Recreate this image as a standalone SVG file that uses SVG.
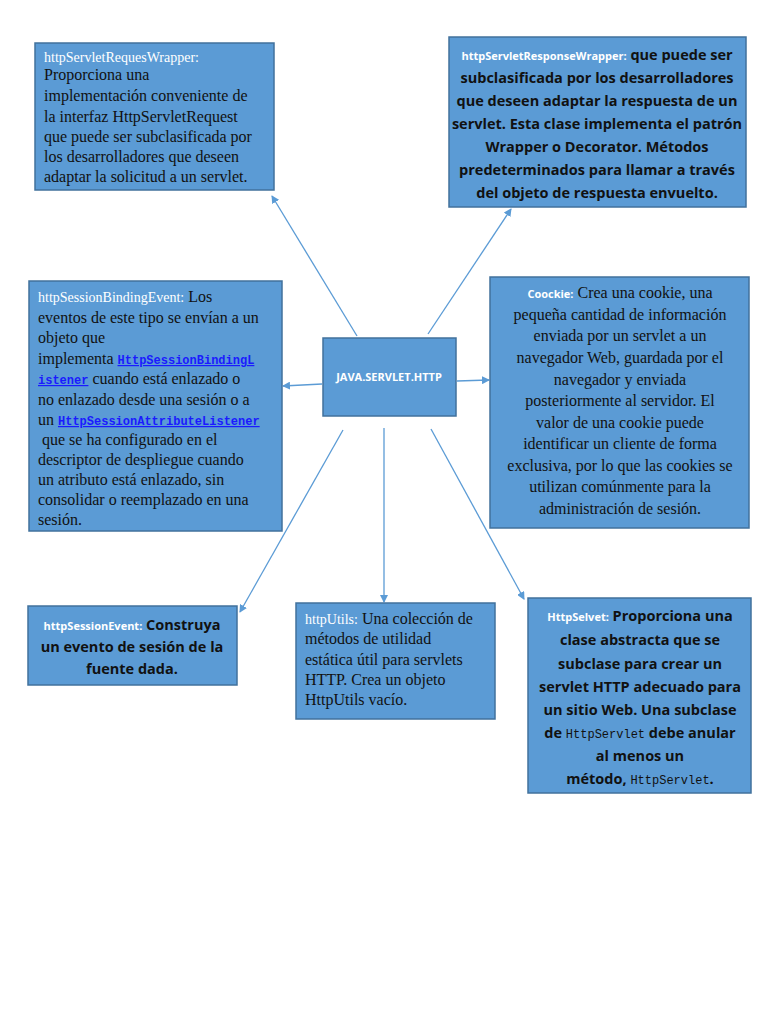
<svg xmlns="http://www.w3.org/2000/svg" width="768" height="1024" viewBox="0 0 768 1024">
<style>
.box{fill:#5b9bd5;stroke:#41719c;stroke-width:1.5}
.s{font-family:"Liberation Serif",serif;font-size:16px;fill:#111}
.sl{font-family:"Liberation Serif",serif;font-size:14px;fill:#fff}
.b{font-family:"Open Sans","Liberation Sans",sans-serif;font-weight:bold;font-size:14.5px;fill:#111}
.bl{font-family:"Open Sans","Liberation Sans",sans-serif;font-weight:bold;font-size:11px;fill:#fff}
.m{font-family:"Liberation Mono",monospace;font-size:12px}
.lk{fill:#1a1aff;text-decoration:underline;font-weight:bold}
.c{text-anchor:middle}
.con line{stroke:#5b9bd5;stroke-width:1.3;marker-end:url(#a)}
</style>
<defs><marker id="a" markerWidth="8" markerHeight="8" refX="7" refY="4" orient="auto" markerUnits="userSpaceOnUse"><path d="M0,0L8,4L0,8z" fill="#5b9bd5"/></marker></defs>
<rect width="768" height="1024" fill="#fff"/>
<g class="con">
<line x1="357" y1="336" x2="272" y2="196"/>
<line x1="428" y1="334" x2="511" y2="209"/>
<line x1="322" y1="384" x2="283" y2="386"/>
<line x1="457" y1="381" x2="489" y2="380"/>
<line x1="343" y1="430" x2="240" y2="612"/>
<line x1="384" y1="428" x2="384" y2="602"/>
<line x1="431" y1="429" x2="524" y2="599"/>
</g>
<g id="reqwrapper"><rect class="box" x="35" y="43" width="239" height="147"/>
<text class="sl" x="44" y="62">httpServletRequesWrapper:</text>
<text class="s" x="44" y="80">Proporciona una</text>
<text class="s" x="44" y="101">implementación conveniente de</text>
<text class="s" x="44" y="122">la interfaz HttpServletRequest</text>
<text class="s" x="44" y="142">que puede ser subclasificada por</text>
<text class="s" x="44" y="162">los desarrolladores que deseen</text>
<text class="s" x="44" y="182">adaptar la solicitud a un servlet.</text></g>
<g id="respwrapper"><rect class="box" x="449" y="37" width="297" height="170"/>
<text class="b c" x="597" y="60"><tspan class="bl">httpServletResponseWrapper:</tspan> que puede ser</text>
<text class="b c" x="597" y="83">subclasificada por los desarrolladores</text>
<text class="b c" x="597" y="106">que deseen adaptar la respuesta de un</text>
<text class="b c" x="597" y="129">servlet. Esta clase implementa el patrón</text>
<text class="b c" x="597" y="152">Wrapper o Decorator. Métodos</text>
<text class="b c" x="597" y="175">predeterminados para llamar a través</text>
<text class="b c" x="597" y="198">del objeto de respuesta envuelto.</text></g>
<g id="bindingevent"><rect class="box" x="29" y="281" width="253" height="250"/>
<text class="s" x="38" y="302"><tspan class="sl">httpSessionBindingEvent:</tspan> Los</text>
<text class="s" x="38" y="323">eventos de este tipo se envían a un</text>
<text class="s" x="38" y="343">objeto que</text>
<text class="s" x="38" y="364">implementa <tspan class="m lk">HttpSessionBindingL</tspan></text>
<text class="s" x="38" y="384"><tspan class="m lk">istener</tspan> cuando está enlazado o</text>
<text class="s" x="38" y="405">no enlazado desde una sesión o a</text>
<text class="s" x="38" y="425">un <tspan class="m lk">HttpSessionAttributeListener</tspan></text>
<text class="s" x="38" y="445" xml:space="preserve"> que se ha configurado en el</text>
<text class="s" x="38" y="465">descriptor de despliegue cuando</text>
<text class="s" x="38" y="485">un atributo está enlazado, sin</text>
<text class="s" x="38" y="505">consolidar o reemplazado en una</text>
<text class="s" x="38" y="525">sesión.</text></g>
<g id="center"><rect class="box" x="323" y="338" width="133" height="78"/>
<text class="bl c" x="389" y="381">JAVA.SERVLET.HTTP</text></g>
<g id="cookie"><rect class="box" x="490" y="277" width="259" height="251"/>
<text class="s c" x="620" y="298"><tspan class="bl">Coockie:</tspan> Crea una cookie, una</text>
<text class="s c" x="620" y="320">pequeña cantidad de información</text>
<text class="s c" x="620" y="341">enviada por un servlet a un</text>
<text class="s c" x="620" y="363">navegador Web, guardada por el</text>
<text class="s c" x="620" y="385">navegador y enviada</text>
<text class="s c" x="620" y="406">posteriormente al servidor. El</text>
<text class="s c" x="620" y="428">valor de una cookie puede</text>
<text class="s c" x="620" y="449">identificar un cliente de forma</text>
<text class="s c" x="620" y="471">exclusiva, por lo que las cookies se</text>
<text class="s c" x="620" y="492">utilizan comúnmente para la</text>
<text class="s c" x="620" y="514">administración de sesión.</text></g>
<g id="sessionevent"><rect class="box" x="28" y="606" width="209" height="79"/>
<text class="b c" x="132" y="630"><tspan class="bl">httpSessionEvent:</tspan> Construya</text>
<text class="b c" x="132" y="652">un evento de sesión de la</text>
<text class="b c" x="132" y="674">fuente dada.</text></g>
<g id="utils"><rect class="box" x="296" y="603" width="199" height="116"/>
<text class="s" x="305" y="624"><tspan class="sl">httpUtils:</tspan> Una colección de</text>
<text class="s" x="305" y="644">métodos de utilidad</text>
<text class="s" x="305" y="665">estática útil para servlets</text>
<text class="s" x="305" y="685">HTTP. Crea un objeto</text>
<text class="s" x="305" y="705">HttpUtils vacío.</text></g>
<g id="httpservlet"><rect class="box" x="528" y="598" width="223" height="195"/>
<text class="b c" x="640" y="621"><tspan class="bl">HttpSelvet:</tspan> Proporciona una</text>
<text class="b c" x="640" y="645">clase abstracta que se</text>
<text class="b c" x="640" y="669">subclase para crear un</text>
<text class="b c" x="640" y="692">servlet HTTP adecuado para</text>
<text class="b c" x="640" y="715">un sitio Web. Una subclase</text>
<text class="b c" x="640" y="738">de <tspan class="m" font-weight="normal">HttpServlet</tspan> debe anular</text>
<text class="b c" x="640" y="761">al menos un</text>
<text class="b c" x="640" y="784">método, <tspan class="m" font-weight="normal">HttpServlet</tspan>.</text></g>
</svg>
